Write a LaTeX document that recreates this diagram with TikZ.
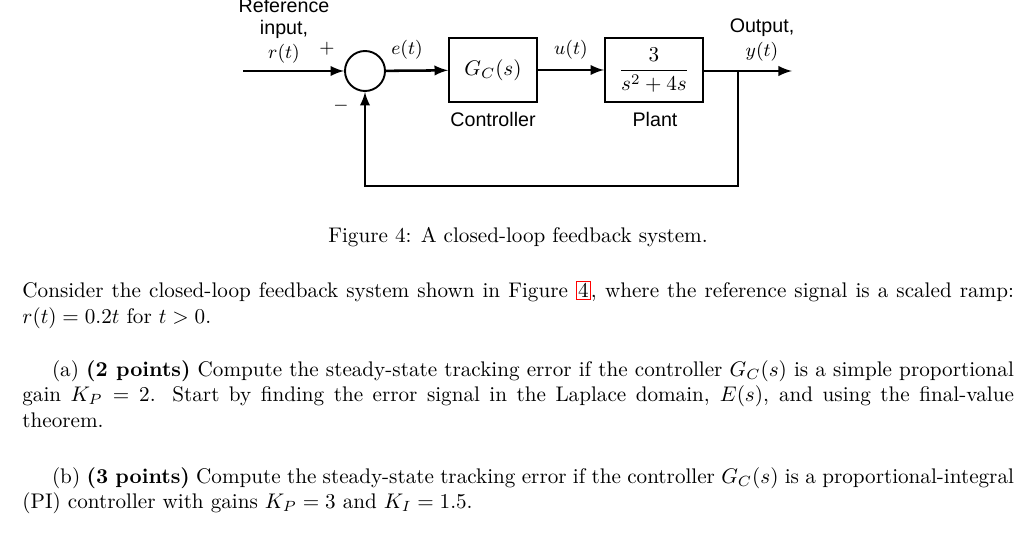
\documentclass[tikz,border=0pt]{standalone}
\usepackage{amsmath}
\usepackage{fontspec}
\newfontfamily\labelfont{Liberation Sans}
\usetikzlibrary{positioning}
\tikzset{
  block/.style={draw, line width=0.9pt, minimum width=88*0.473pt, minimum height=64*0.473pt, inner sep=0pt},
  sig/.style={line width=1.2pt, -latex},
  lab/.style={font=\labelfont\fontsize{9.3}{10.5}\selectfont, inner sep=0pt, align=center},
  par/.style={anchor=north west, inner sep=0pt, text width=469pt, align=justify}
}
\begin{document}
\begin{tikzpicture}[x=0.473pt, y=-0.473pt]
  \useasboundingbox (0,0) rectangle (1024,534);
  % diagram
  \coordinate (in) at (243,71);
  \node[draw, circle, line width=0.9pt, minimum size=40*0.473pt, inner sep=0pt] (sum) at (365,71) {};
  \node[block] (ctrl) at (493,70) {$G_C(s)$};
  \node[block, minimum width=98*0.473pt] (plant) at (654,70) {$\dfrac{3}{s^2+4s}$};
  \coordinate (tap) at (738,71);
  \coordinate (out) at (792,71);
  \coordinate (fb) at (738,186);
  \draw[sig] (in) -- (sum);
  \draw[sig] (sum) -- (ctrl);
  \draw[sig] (ctrl) -- (plant);
  \draw[sig] (plant.east |- tap) -- (out);
  \draw[sig] (tap) -- (fb) -| (sum.south);
  % labels
  \node[lab] (refl) at (284,31) {Reference\\input,\\[1pt]$r(t)$};
  \node[lab] (plus) at (327,49) {$+$};
  \node[lab] (minus) at (341,106) {$-$};
  \node[lab] (el) at (407,50) {$e(t)$};
  \node[lab] (ul) at (571,50) {$u(t)$};
  \node[lab] (outl) at (762,40) {Output,\\[1pt]$y(t)$};
  \node[lab] (ctrll) at (493,119) {Controller};
  \node[lab] (plantl) at (655,119) {Plant};
  % text
  \node[inner sep=0pt] (cap) at (518,237) {Figure 4: A closed-loop feedback system.};
  \node[par] (p1) at (22,281) {Consider the closed-loop feedback system shown in Figure {\setlength\fboxsep{0.6pt}\color{red}\fbox{\color{black}4}}, where the reference signal is a scaled ramp: $r(t)=0.2t$ for $t>0$.};
  \node[par] (p2) at (22,360) {\hspace*{14pt}(a) \textbf{(2 points)} Compute the steady-state tracking error if the controller $G_C(s)$ is a simple proportional gain $K_P=2$. Start by finding the error signal in the Laplace domain, $E(s)$, and using the final-value theorem.};
  \node[par] (p3) at (22,467) {\hspace*{14pt}(b) \textbf{(3 points)} Compute the steady-state tracking error if the controller $G_C(s)$ is a proportional-integral (PI) controller with gains $K_P=3$ and $K_I=1.5$.};
\end{tikzpicture}
\end{document}
